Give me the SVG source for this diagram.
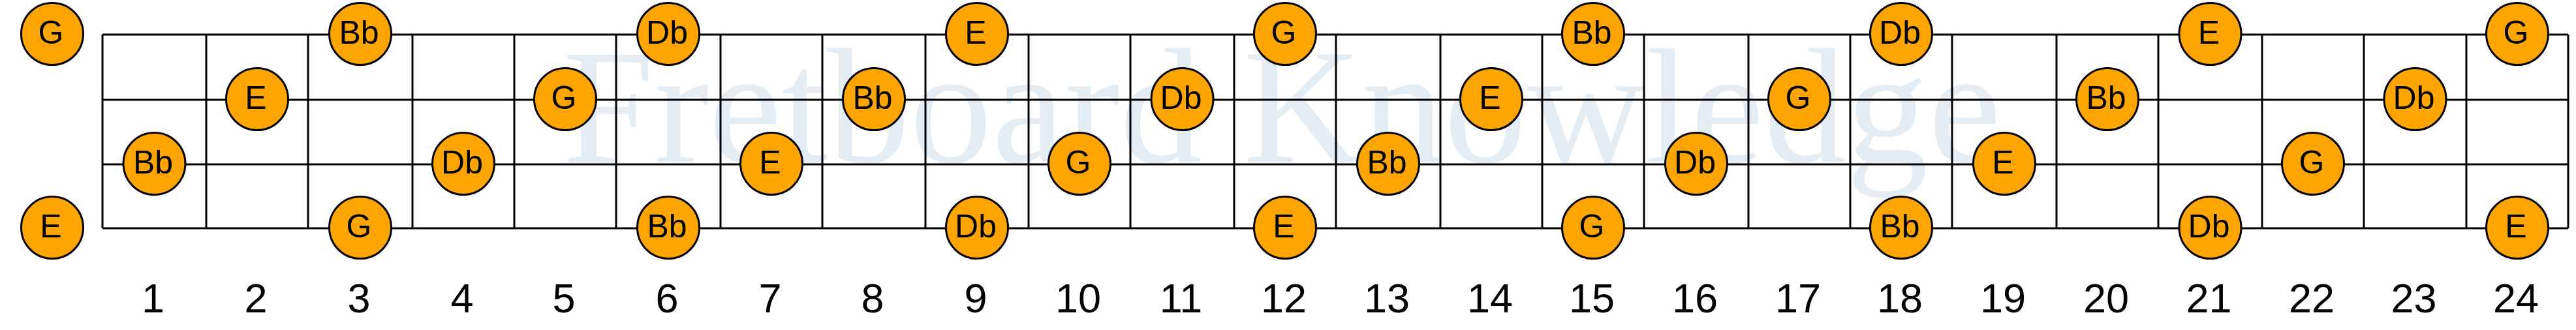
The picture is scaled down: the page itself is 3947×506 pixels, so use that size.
<svg xmlns="http://www.w3.org/2000/svg" width="3947" height="506" viewBox="0 0 3947 506">
<style>
.wm{font-family:"Liberation Serif","Times New Roman",serif;font-size:252px;fill:#e4edf4}
.ln{stroke:#000;stroke-width:3;fill:none}
.dot{fill:#ffa500;stroke:#000;stroke-width:3}
.nt{font-family:"Liberation Sans",Arial,sans-serif;font-size:50px;fill:#000;text-anchor:middle}
.fn{font-family:"Liberation Sans",Arial,sans-serif;font-size:63px;fill:#000;text-anchor:middle}
</style>
<rect width="3947" height="506" fill="#fff"/>
<text class="wm" x="862" y="249">Fretboard Knowledge</text>
<g id="connectors">
<g id="strings" class="ln">
<line x1="157" y1="53" x2="3935" y2="53"/>
<line x1="157" y1="153" x2="3935" y2="153"/>
<line x1="157" y1="252" x2="3935" y2="252"/>
<line x1="157" y1="350" x2="3935" y2="350"/>
</g>
<g id="frets" class="ln">
<line x1="157" y1="53" x2="157" y2="350"/>
<line x1="316" y1="53" x2="316" y2="350"/>
<line x1="472" y1="53" x2="472" y2="350"/>
<line x1="632" y1="53" x2="632" y2="350"/>
<line x1="788" y1="53" x2="788" y2="350"/>
<line x1="944" y1="53" x2="944" y2="350"/>
<line x1="1104" y1="53" x2="1104" y2="350"/>
<line x1="1260" y1="53" x2="1260" y2="350"/>
<line x1="1418" y1="53" x2="1418" y2="350"/>
<line x1="1576" y1="53" x2="1576" y2="350"/>
<line x1="1732" y1="53" x2="1732" y2="350"/>
<line x1="1891" y1="53" x2="1891" y2="350"/>
<line x1="2047" y1="53" x2="2047" y2="350"/>
<line x1="2207" y1="53" x2="2207" y2="350"/>
<line x1="2363" y1="53" x2="2363" y2="350"/>
<line x1="2519" y1="53" x2="2519" y2="350"/>
<line x1="2679" y1="53" x2="2679" y2="350"/>
<line x1="2835" y1="53" x2="2835" y2="350"/>
<line x1="2991" y1="53" x2="2991" y2="350"/>
<line x1="3151" y1="53" x2="3151" y2="350"/>
<line x1="3307" y1="53" x2="3307" y2="350"/>
<line x1="3466" y1="53" x2="3466" y2="350"/>
<line x1="3622" y1="53" x2="3622" y2="350"/>
<line x1="3779" y1="53" x2="3779" y2="350"/>
<line x1="3935" y1="53" x2="3935" y2="350"/>
</g>
</g>
<g id="notes">
<g id="n-1-0"><circle class="dot" cx="80" cy="52" r="47.5"/><text class="nt" x="78" y="67">G</text></g>
<g id="n-1-3"><circle class="dot" cx="552" cy="52" r="47.5"/><text class="nt" x="550" y="67">Bb</text></g>
<g id="n-1-6"><circle class="dot" cx="1024" cy="52" r="47.5"/><text class="nt" x="1022" y="67">Db</text></g>
<g id="n-1-9"><circle class="dot" cx="1497" cy="52" r="47.5"/><text class="nt" x="1495" y="67">E</text></g>
<g id="n-1-12"><circle class="dot" cx="1969" cy="52" r="47.5"/><text class="nt" x="1967" y="67">G</text></g>
<g id="n-1-15"><circle class="dot" cx="2441" cy="52" r="47.5"/><text class="nt" x="2439" y="67">Bb</text></g>
<g id="n-1-18"><circle class="dot" cx="2913" cy="52" r="47.5"/><text class="nt" x="2911" y="67">Db</text></g>
<g id="n-1-21"><circle class="dot" cx="3386.5" cy="52" r="47.5"/><text class="nt" x="3384.5" y="67">E</text></g>
<g id="n-1-24"><circle class="dot" cx="3857" cy="52" r="47.5"/><text class="nt" x="3855" y="67">G</text></g>

<g id="n-2-2"><circle class="dot" cx="394" cy="152" r="47.5"/><text class="nt" x="392" y="167">E</text></g>
<g id="n-2-5"><circle class="dot" cx="866" cy="152" r="47.5"/><text class="nt" x="864" y="167">G</text></g>
<g id="n-2-8"><circle class="dot" cx="1339" cy="152" r="47.5"/><text class="nt" x="1337" y="167">Bb</text></g>
<g id="n-2-11"><circle class="dot" cx="1811.5" cy="152" r="47.5"/><text class="nt" x="1809.5" y="167">Db</text></g>
<g id="n-2-14"><circle class="dot" cx="2285" cy="152" r="47.5"/><text class="nt" x="2283" y="167">E</text></g>
<g id="n-2-17"><circle class="dot" cx="2757" cy="152" r="47.5"/><text class="nt" x="2755" y="167">G</text></g>
<g id="n-2-20"><circle class="dot" cx="3229" cy="152" r="47.5"/><text class="nt" x="3227" y="167">Bb</text></g>
<g id="n-2-23"><circle class="dot" cx="3700.5" cy="152" r="47.5"/><text class="nt" x="3698.5" y="167">Db</text></g>

<g id="n-3-1"><circle class="dot" cx="236.5" cy="251" r="47.5"/><text class="nt" x="234.5" y="266">Bb</text></g>
<g id="n-3-4"><circle class="dot" cx="710" cy="251" r="47.5"/><text class="nt" x="708" y="266">Db</text></g>
<g id="n-3-7"><circle class="dot" cx="1182" cy="251" r="47.5"/><text class="nt" x="1180" y="266">E</text></g>
<g id="n-3-10"><circle class="dot" cx="1654" cy="251" r="47.5"/><text class="nt" x="1652" y="266">G</text></g>
<g id="n-3-13"><circle class="dot" cx="2127" cy="251" r="47.5"/><text class="nt" x="2125" y="266">Bb</text></g>
<g id="n-3-16"><circle class="dot" cx="2599" cy="251" r="47.5"/><text class="nt" x="2597" y="266">Db</text></g>
<g id="n-3-19"><circle class="dot" cx="3071" cy="251" r="47.5"/><text class="nt" x="3069" y="266">E</text></g>
<g id="n-3-22"><circle class="dot" cx="3544" cy="251" r="47.5"/><text class="nt" x="3542" y="266">G</text></g>

<g id="n-4-0"><circle class="dot" cx="80" cy="349" r="47.5"/><text class="nt" x="78" y="364">E</text></g>
<g id="n-4-3"><circle class="dot" cx="552" cy="349" r="47.5"/><text class="nt" x="550" y="364">G</text></g>
<g id="n-4-6"><circle class="dot" cx="1024" cy="349" r="47.5"/><text class="nt" x="1022" y="364">Bb</text></g>
<g id="n-4-9"><circle class="dot" cx="1497" cy="349" r="47.5"/><text class="nt" x="1495" y="364">Db</text></g>
<g id="n-4-12"><circle class="dot" cx="1969" cy="349" r="47.5"/><text class="nt" x="1967" y="364">E</text></g>
<g id="n-4-15"><circle class="dot" cx="2441" cy="349" r="47.5"/><text class="nt" x="2439" y="364">G</text></g>
<g id="n-4-18"><circle class="dot" cx="2913" cy="349" r="47.5"/><text class="nt" x="2911" y="364">Bb</text></g>
<g id="n-4-21"><circle class="dot" cx="3386.5" cy="349" r="47.5"/><text class="nt" x="3384.5" y="364">Db</text></g>
<g id="n-4-24"><circle class="dot" cx="3857" cy="349" r="47.5"/><text class="nt" x="3855" y="364">E</text></g>
</g>
<g id="fret-numbers">
<text class="fn" x="234.5" y="479">1</text>
<text class="fn" x="392" y="479">2</text>
<text class="fn" x="550" y="479">3</text>
<text class="fn" x="708" y="479">4</text>
<text class="fn" x="864" y="479">5</text>
<text class="fn" x="1022" y="479">6</text>
<text class="fn" x="1180" y="479">7</text>
<text class="fn" x="1337" y="479">8</text>
<text class="fn" x="1495" y="479">9</text>
<text class="fn" x="1652" y="479">10</text>
<text class="fn" x="1809.5" y="479">11</text>
<text class="fn" x="1967" y="479">12</text>
<text class="fn" x="2125" y="479">13</text>
<text class="fn" x="2283" y="479">14</text>
<text class="fn" x="2439" y="479">15</text>
<text class="fn" x="2597" y="479">16</text>
<text class="fn" x="2755" y="479">17</text>
<text class="fn" x="2911" y="479">18</text>
<text class="fn" x="3069" y="479">19</text>
<text class="fn" x="3227" y="479">20</text>
<text class="fn" x="3384.5" y="479">21</text>
<text class="fn" x="3542" y="479">22</text>
<text class="fn" x="3698.5" y="479">23</text>
<text class="fn" x="3855" y="479">24</text>
</g>
</svg>
